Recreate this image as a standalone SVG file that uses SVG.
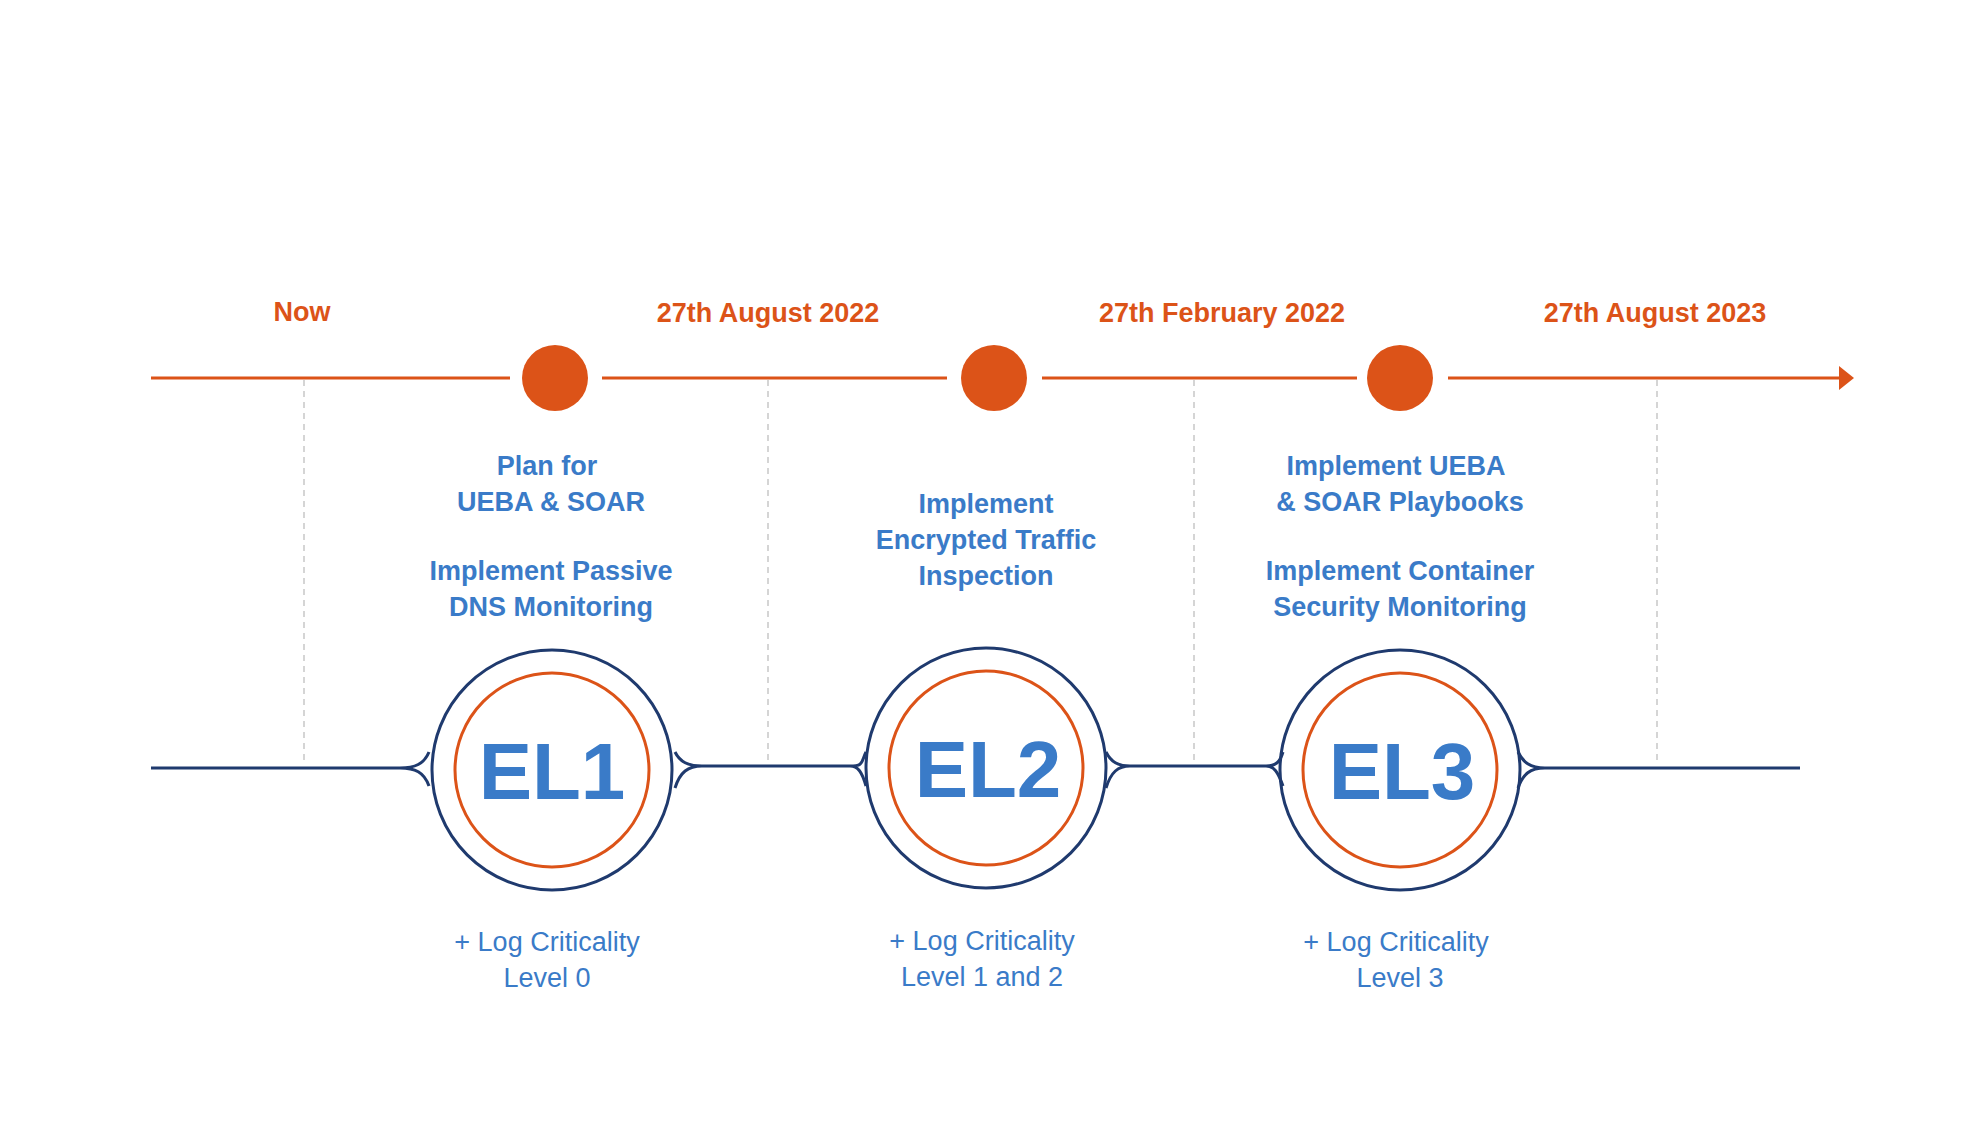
<svg xmlns="http://www.w3.org/2000/svg" width="1978" height="1138" viewBox="0 0 1978 1138">
<style>
.date{font-family:"Liberation Sans",Arial,sans-serif;font-weight:bold;font-size:27px;fill:#dc5318;text-anchor:middle}
.lbl{font-family:"Liberation Sans",Arial,sans-serif;font-weight:bold;font-size:27px;fill:#3a7bc8;text-anchor:middle}
.log{font-family:"Liberation Sans",Arial,sans-serif;font-size:27px;fill:#3a7bc8;text-anchor:middle}
.el{font-family:"Liberation Sans",Arial,sans-serif;font-weight:bold;font-size:80px;fill:#3a7bc8;text-anchor:middle}
.or{stroke:#dc5318;stroke-width:3;fill:none}
.nv{stroke:#1f3a6e;stroke-width:3;fill:none}
.dash{stroke:#c8c8c8;stroke-width:1.5;stroke-dasharray:6 5}
</style>
<defs><marker id="ah" markerWidth="10" markerHeight="10" refX="1" refY="5" orient="auto" markerUnits="userSpaceOnUse"><path d="M0,0 L14,5 L0,10Z" fill="#dc5318"/></marker></defs>
<g id="connectors">
<line class="dash" x1="304" y1="380" x2="304" y2="762"/>
<line class="dash" x1="768" y1="380" x2="768" y2="762"/>
<line class="dash" x1="1194" y1="380" x2="1194" y2="762"/>
<line class="dash" x1="1657" y1="380" x2="1657" y2="762"/>
<line class="or" x1="151" y1="378" x2="510" y2="378"/>
<line class="or" x1="602" y1="378" x2="947" y2="378"/>
<line class="or" x1="1042" y1="378" x2="1357" y2="378"/>
<path d="M1448,378 H1840" stroke="#dc5318" stroke-width="3" fill="none"/>
<path d="M1839,366 L1854,378 L1839,390Z" fill="#dc5318"/>
<path class="nv" d="M151,768 H400 C415,768 424,764 429,752 M400,768 C415,768 424,772 429,786"/>
<path class="nv" d="M675,752 C680,762 688,766 702,766 H850 C864,766 861,762 866,752 M675,788 C680,772 688,766 702,766 M850,766 C858,766 862,772 866,786"/>
<path class="nv" d="M1106,752 C1111,762 1118,766 1130,766 H1266 C1276,766 1280,762 1283,752 M1106,788 C1111,772 1118,766 1130,766 M1266,766 C1274,766 1278,772 1283,786"/>
<path class="nv" d="M1518,752 C1523,762 1530,768 1545,768 H1800 M1518,788 C1523,774 1530,768 1545,768"/>
</g>
<g id="m1"><circle cx="555" cy="378" r="33" fill="#dc5318"/></g>
<g id="m2"><circle cx="994" cy="378" r="33" fill="#dc5318"/></g>
<g id="m3"><circle cx="1400" cy="378" r="33" fill="#dc5318"/></g>
<g id="dates">
<text class="date" x="302" y="321">Now</text>
<text class="date" x="768" y="322">27th August 2022</text>
<text class="date" x="1222" y="322">27th February 2022</text>
<text class="date" x="1655" y="322">27th August 2023</text>
</g>
<g id="el1">
<circle class="nv" cx="552" cy="770" r="120" fill="#fff"/>
<circle class="or" cx="552" cy="770" r="97"/>
<text class="el" x="552" y="799">EL1</text>
<text class="lbl" x="547" y="475">Plan for</text>
<text class="lbl" x="551" y="511">UEBA &amp; SOAR</text>
<text class="lbl" x="551" y="580">Implement Passive</text>
<text class="lbl" x="551" y="616">DNS Monitoring</text>
<text class="log" x="547" y="951">+ Log Criticality</text>
<text class="log" x="547" y="987">Level 0</text>
</g>
<g id="el2">
<circle class="nv" cx="986" cy="768" r="120" fill="#fff"/>
<circle class="or" cx="986" cy="768" r="97"/>
<text class="el" x="988" y="797">EL2</text>
<text class="lbl" x="986" y="513">Implement</text>
<text class="lbl" x="986" y="549">Encrypted Traffic</text>
<text class="lbl" x="986" y="585">Inspection</text>
<text class="log" x="982" y="950">+ Log Criticality</text>
<text class="log" x="982" y="986">Level 1 and 2</text>
</g>
<g id="el3">
<circle class="nv" cx="1400" cy="770" r="120" fill="#fff"/>
<circle class="or" cx="1400" cy="770" r="97"/>
<text class="el" x="1402" y="799">EL3</text>
<text class="lbl" x="1396" y="475">Implement UEBA</text>
<text class="lbl" x="1400" y="511">&amp; SOAR Playbooks</text>
<text class="lbl" x="1400" y="580">Implement Container</text>
<text class="lbl" x="1400" y="616">Security Monitoring</text>
<text class="log" x="1396" y="951">+ Log Criticality</text>
<text class="log" x="1400" y="987">Level 3</text>
</g>
</svg>
